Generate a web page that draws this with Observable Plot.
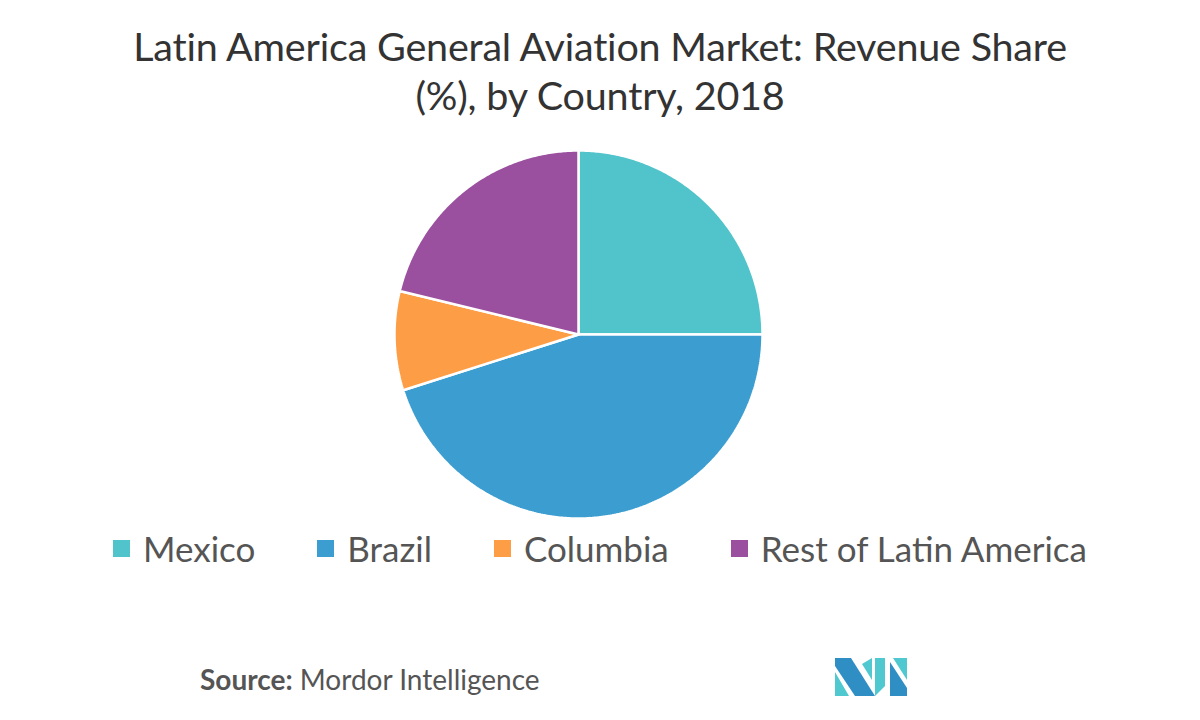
<!DOCTYPE html>
<html>
<head>
<meta charset="utf-8">
<script src="https://cdn.jsdelivr.net/npm/d3@7"></script>
<script src="https://cdn.jsdelivr.net/npm/@observablehq/plot@0.6"></script>
<style>
  html, body { margin: 0; padding: 0; background: #fff; }
  body { width: 1200px; height: 720px; position: relative; overflow: hidden; font-family: Lato, "Open Sans", sans-serif; }
  #title { position: absolute; left: 0; top: 21px; width: 1200px; text-align: center; font-size: 39.5px; line-height: 49px; color: #333; letter-spacing: -0.2px; }
  #chart { position: absolute; left: 0; top: 140px; }
  #legend { position: absolute; left: 0; top: 527px; width: 1200px; display: flex; justify-content: center; font-size: 35px; color: #555; }
  .item { display: flex; align-items: center; margin: 0 31px; }
  .sw { width: 17px; height: 17px; margin-right: 13px; }
  #source { position: absolute; left: 200px; top: 662px; font-size: 28px; color: #555; }
  #logo { position: absolute; left: 835px; top: 658px; }
</style>
</head>
<body>
<div id="title">Latin America General Aviation Market: Revenue Share<br>(%), by Country, 2018</div>
<div id="chart"></div>
<div id="legend"></div>
<div id="source"><b>Source:</b> Mordor Intelligence</div>
<svg id="logo" width="72" height="38" viewBox="0 0 72 38">
  <polygon points="0,0 16,0 40,38 20,38 0,8" fill="#2f8fc4"/>
  <polygon points="0,14 14,38 0,38" fill="#4fc8cf"/>
  <polygon points="27,6 37,0 37,22" fill="#4fc8cf"/>
  <polygon points="40,0 50,0 50,28 40,38" fill="#4fc8cf"/>
  <polygon points="55,4 72,30 72,38 55,38" fill="#2f8fc4"/>
  <polygon points="58,0 72,0 72,22" fill="#4fc8cf"/>
</svg>
<script>
const categories = ["Mexico", "Brazil", "Columbia", "Rest of Latin America"];
const shares = [25.0, 45.1, 8.7, 21.2];
const colors = ["#50c4ca", "#3c9dd0", "#fd9d45", "#9b509f"];

const data = categories.map((name, i) => ({name, value: shares[i]}));
const arcs = d3.pie().sort(null).value(d => d.value)(data);

// Build polygon outlines for each slice from the pie angles
const pts = [];
for (const a of arcs) {
  const n = Math.max(2, Math.ceil((a.endAngle - a.startAngle) / 0.01));
  pts.push({name: a.data.name, x: 0, y: 0});
  for (let k = 0; k <= n; k++) {
    const t = a.startAngle + (a.endAngle - a.startAngle) * k / n;
    pts.push({name: a.data.name, x: Math.sin(t), y: Math.cos(t)});
  }
  pts.push({name: a.data.name, x: 0, y: 0});
}

const plot = Plot.plot({
  width: 1200,
  height: 390,
  marginLeft: 394,
  marginRight: 438,
  marginTop: 10,
  marginBottom: 12,
  x: {domain: [-1, 1], axis: null},
  y: {domain: [-1, 1], axis: null},
  color: {domain: categories, range: colors},
  marks: [
    Plot.line(pts, {x: "x", y: "y", z: "name", fill: "name", stroke: "#fff", strokeWidth: 2.5, strokeLinejoin: "miter", curve: "linear"})
  ]
});
document.getElementById("chart").appendChild(plot);

const legend = document.getElementById("legend");
categories.forEach((c, i) => {
  const it = document.createElement("div");
  it.className = "item";
  it.innerHTML = `<span class="sw" style="background:${colors[i]}"></span><span>${c}</span>`;
  legend.appendChild(it);
});
</script>
</body>
</html>
